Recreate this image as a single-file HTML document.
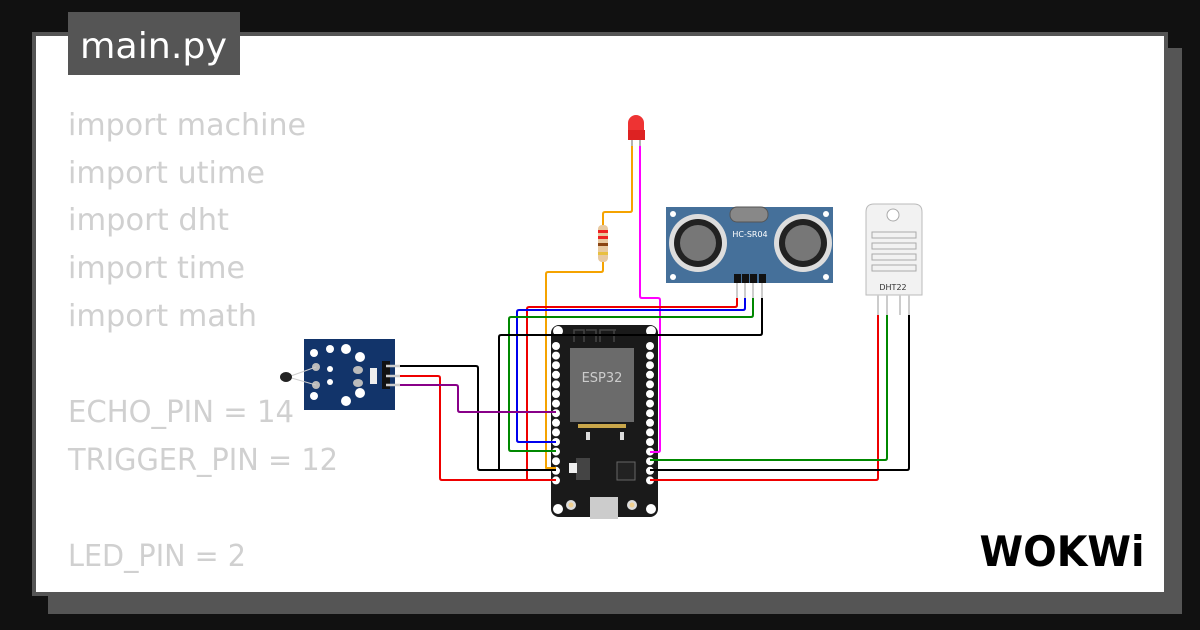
<!DOCTYPE html>
<html><head><meta charset="utf-8"><style>
html,body{margin:0;padding:0;background:#111;}
svg{display:block}
</style></head><body>
<svg width="1200" height="630" viewBox="0 0 1200 630" xmlns="http://www.w3.org/2000/svg">
<rect width="1200" height="630" fill="#111"/>
<rect x="48" y="48" width="1134" height="566" fill="#555"/>
<rect x="32" y="32" width="1136" height="564" fill="#555"/>
<rect x="36" y="36" width="1128" height="556" fill="#fff"/>
<rect x="68" y="12" width="172" height="63" fill="#555"/>
<text x="80" y="58" font-family="DejaVu Sans, Liberation Sans, sans-serif" font-size="36" fill="#fff" textLength="147" lengthAdjust="spacingAndGlyphs">main.py</text>
<g font-family="DejaVu Sans, Liberation Sans, sans-serif" font-size="30" fill="#d0d0d0">
<text x="68" y="135" textLength="238" lengthAdjust="spacingAndGlyphs">import machine</text>
<text x="68" y="183" textLength="197" lengthAdjust="spacingAndGlyphs">import utime</text>
<text x="68" y="230" textLength="161" lengthAdjust="spacingAndGlyphs">import dht</text>
<text x="68" y="278" textLength="177" lengthAdjust="spacingAndGlyphs">import time</text>
<text x="68" y="326" textLength="189" lengthAdjust="spacingAndGlyphs">import math</text>
<text x="68" y="422" textLength="226" lengthAdjust="spacingAndGlyphs">ECHO_PIN = 14</text>
<text x="68" y="470" textLength="270" lengthAdjust="spacingAndGlyphs">TRIGGER_PIN = 12</text>
<text x="68" y="566" textLength="178" lengthAdjust="spacingAndGlyphs">LED_PIN = 2</text>
</g>

<!-- ESP32 board -->
<rect x="551" y="325" width="107" height="192" rx="8" fill="#1a1a1a"/>
<path d="M574 342v-12h10v12M586 330h10v12M600 342v-12h14v12M606 330h10" stroke="#444" fill="none" stroke-width="1.5"/>
<rect x="570" y="348" width="64" height="74" fill="#6b6b6b"/>
<text x="602" y="382" font-family="DejaVu Sans, sans-serif" font-size="13" fill="#ccc" text-anchor="middle">ESP32</text>
<rect x="578" y="424" width="48" height="4" fill="#c9a64a"/>
<rect x="586" y="432" width="4" height="8" fill="#ddd"/>
<rect x="620" y="432" width="4" height="8" fill="#ddd"/>
<rect x="576" y="458" width="14" height="22" fill="#444"/>
<rect x="569" y="463" width="8" height="10" fill="#eee"/>
<rect x="617" y="462" width="18" height="18" fill="#222" stroke="#666"/>
<rect x="590" y="497" width="28" height="22" fill="#ccc"/>
<circle cx="571" cy="505" r="5" fill="#ddd"/><circle cx="571" cy="505" r="2.5" fill="#f0d090"/>
<circle cx="632" cy="505" r="5" fill="#ddd"/><circle cx="632" cy="505" r="2.5" fill="#f0d090"/>
<g fill="#fff">
<circle cx="558" cy="331" r="5"/><circle cx="651" cy="331" r="5"/><circle cx="558" cy="509" r="5"/><circle cx="651" cy="509" r="5"/>
<circle cx="556" cy="346" r="4"/><circle cx="556" cy="355.6" r="4"/><circle cx="556" cy="365.2" r="4"/><circle cx="556" cy="374.8" r="4"/><circle cx="556" cy="384.4" r="4"/><circle cx="556" cy="394" r="4"/><circle cx="556" cy="403.6" r="4"/><circle cx="556" cy="413.2" r="4"/><circle cx="556" cy="422.8" r="4"/><circle cx="556" cy="432.4" r="4"/><circle cx="556" cy="442" r="4"/><circle cx="556" cy="451.6" r="4"/><circle cx="556" cy="461.2" r="4"/><circle cx="556" cy="470.8" r="4"/><circle cx="556" cy="480.4" r="4"/>
<circle cx="650" cy="346" r="4"/><circle cx="650" cy="355.6" r="4"/><circle cx="650" cy="365.2" r="4"/><circle cx="650" cy="374.8" r="4"/><circle cx="650" cy="384.4" r="4"/><circle cx="650" cy="394" r="4"/><circle cx="650" cy="403.6" r="4"/><circle cx="650" cy="413.2" r="4"/><circle cx="650" cy="422.8" r="4"/><circle cx="650" cy="432.4" r="4"/><circle cx="650" cy="442" r="4"/><circle cx="650" cy="451.6" r="4"/><circle cx="650" cy="461.2" r="4"/><circle cx="650" cy="470.8" r="4"/><circle cx="650" cy="480.4" r="4"/>
</g>

<!-- LED -->
<path d="M632 140v6M640 140v6" stroke="#999" stroke-width="1.5"/>
<rect x="628" y="115" width="16" height="25" rx="8" fill="#e33"/>
<rect x="628" y="130" width="17" height="10" fill="#d22"/>
<!-- resistor -->
<rect x="598" y="225" width="10" height="37" rx="4" fill="#e8c9a0"/>
<rect x="598" y="230" width="10" height="3" fill="#e22"/><rect x="598" y="236" width="10" height="3" fill="#e22"/><rect x="598" y="243" width="10" height="3" fill="#8b4513"/><rect x="598" y="252" width="10" height="3" fill="#e8c040"/>

<!-- HC-SR04 -->
<rect x="666" y="207" width="167" height="76" fill="#45709a"/>
<rect x="730" y="207" width="38" height="15" rx="7" fill="#888" stroke="#555"/>
<circle cx="698" cy="243" r="29" fill="#ddd"/><circle cx="698" cy="243" r="24" fill="#222"/><circle cx="698" cy="243" r="18" fill="#777"/>
<circle cx="803" cy="243" r="29" fill="#ddd"/><circle cx="803" cy="243" r="24" fill="#222"/><circle cx="803" cy="243" r="18" fill="#777"/>
<text x="750" y="237" font-family="DejaVu Sans, sans-serif" font-size="8" fill="#fff" text-anchor="middle">HC-SR04</text>
<g fill="#fff"><circle cx="673" cy="214" r="3"/><circle cx="826" cy="214" r="3"/><circle cx="673" cy="277" r="3"/><circle cx="826" cy="277" r="3"/></g>
<g fill="#111"><rect x="734" y="274" width="7" height="9"/><rect x="742" y="274" width="7" height="9"/><rect x="750" y="274" width="7" height="9"/><rect x="759" y="274" width="7" height="9"/></g>
<path d="M737 283v15M745 283v15M753 283v15M762 283v15" stroke="#ccc" stroke-width="2"/>

<!-- DHT22 -->
<path d="M866 212q0-8 8-8h40q8 0 8 8v83h-56z" fill="#f2f2f2" stroke="#bbb"/>
<circle cx="893" cy="215" r="6" fill="#fff" stroke="#aaa"/>
<g stroke="#aaa" fill="none" stroke-width="1">
<rect x="872" y="232" width="44" height="6"/><rect x="872" y="243" width="44" height="6"/><rect x="872" y="254" width="44" height="6"/><rect x="872" y="265" width="44" height="6"/>
</g>
<text x="893" y="290" font-family="DejaVu Sans, sans-serif" font-size="8" fill="#333" text-anchor="middle">DHT22</text>
<path d="M878 295v20M887 295v20M900 295v20M909 295v20" stroke="#ccc" stroke-width="2"/>

<!-- temp sensor module -->
<rect x="304" y="339" width="91" height="71" fill="#12346a"/>
<g fill="#fff"><circle cx="330" cy="349" r="4"/><circle cx="346" cy="349" r="5"/><circle cx="360" cy="357" r="5"/><circle cx="314" cy="353" r="4"/><circle cx="314" cy="396" r="4"/><circle cx="346" cy="401" r="5"/><circle cx="360" cy="393" r="5"/><circle cx="330" cy="369" r="3"/><circle cx="330" cy="382" r="3"/></g>
<g fill="#bbb"><circle cx="316" cy="367" r="4"/><circle cx="316" cy="385" r="4"/><ellipse cx="358" cy="370" rx="5" ry="4"/><ellipse cx="358" cy="383" rx="5" ry="4"/></g>
<rect x="370" y="368" width="7" height="16" fill="#eee"/>
<rect x="382" y="361" width="8" height="28" fill="#111"/>
<path d="M288 377 L316 367M288 377 L316 385" stroke="#ccc" stroke-width="1"/>
<ellipse cx="286" cy="377" rx="6" ry="5" fill="#222"/>
<path d="M386 366h14M386 376h14M386 385h14" stroke="#ccc" stroke-width="2.5"/>

<!-- wires -->
<g fill="none" stroke-width="2" stroke-linejoin="round">
<path d="M632 146v64q0 2-2 2h-25q-2 0-2 2v11M603 262v8q0 2-2 2h-53q-2 0-2 2v194h10" stroke="#f5a300"/>
<path d="M640 146v150q0 2 2 2h16q2 0 2 2v150q0 2-2 2h-8" stroke="#f0f"/>
<path d="M737 298v7q0 2-2 2h-206q-2 0-2 2v171h29" stroke="#e00"/>
<path d="M745 298v10q0 2-2 2h-224q-2 0-2 2v128q0 2 2 2h37" stroke="#00e"/>
<path d="M753 298v17q0 2-2 2h-240q-2 0-2 2v130q0 2 2 2h45" stroke="#080"/>
<path d="M762 298v35q0 2-2 2h-259q-2 0-2 2v133h57" stroke="#000"/>
<path d="M400 366h76q2 0 2 2v100q0 2 2 2h19" stroke="#000"/>
<path d="M400 376h38q2 0 2 2v100q0 2 2 2h85" stroke="#e00"/>
<path d="M400 385h56q2 0 2 2v23q0 2 2 2h96" stroke="#808"/>
<path d="M878 315v163q0 2-2 2h-226" stroke="#e00"/>
<path d="M887 315v143q0 2-2 2h-235" stroke="#080"/>
<path d="M909 315v153q0 2-2 2h-257" stroke="#000"/>
</g>

<!-- logo -->
<text x="1062" y="566" font-family="DejaVu Sans, sans-serif" font-size="42" font-weight="bold" fill="#000" text-anchor="middle" textLength="165" lengthAdjust="spacingAndGlyphs">WOKWi</text>
</svg>
</body></html>
